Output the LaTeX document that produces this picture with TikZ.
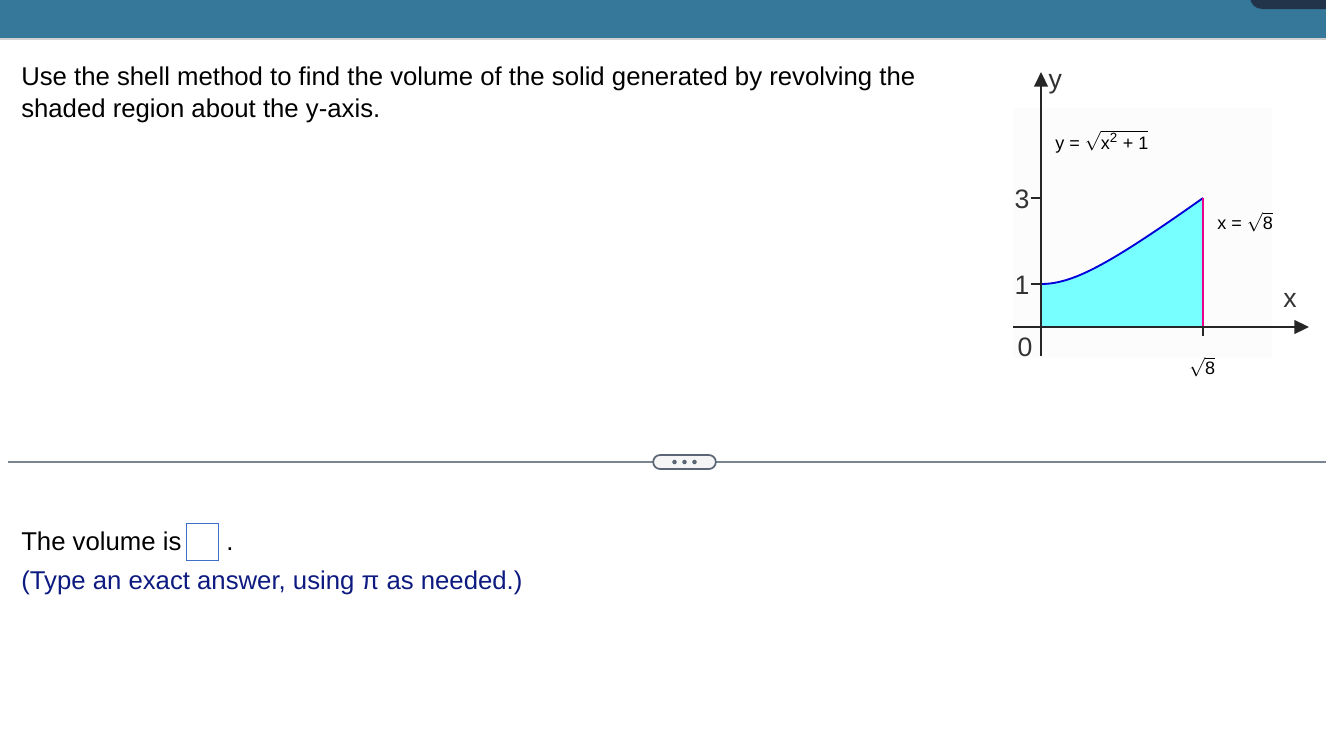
\documentclass[tikz,border=0pt]{standalone}
\usepackage{fontspec}
\setmainfont{Liberation Sans}
\usepackage{xcolor}
\usetikzlibrary{arrows.meta, positioning, calc, shapes}
\definecolor{barblue}{HTML}{357899}
\definecolor{bardark}{HTML}{22344A}
\definecolor{rulegray}{HTML}{7A8592}
\definecolor{pillgray}{HTML}{5A6675}
\definecolor{areacyan}{HTML}{77FFFF}
\definecolor{hintnavy}{HTML}{0D1A80}
\definecolor{boxblue}{HTML}{3E6FC6}
\tikzset{
  question/.style = {anchor=base west, inner sep=0pt, font=\fontsize{19.3}{23}\selectfont},
  ticklabel/.style = {inner sep=1pt, font=\fontsize{20}{24}\selectfont, text=black!80},
  graphlabel/.style = {inner sep=0pt, font=\fontsize{13.5}{16}\selectfont},
  axis/.style = {line width=1.6pt, black!85, -{Triangle[angle=50:9pt 2]}}
}

\begin{document}
\begin{tikzpicture}[x=0.75pt, y=-0.75pt]
  \useasboundingbox (0,0) rectangle (1326,750);
  % header
  \fill[barblue] (0,0) rectangle (1326,38);
  \fill[bardark, rounded corners=9pt] (1250,-20) rectangle (1346,9);
  \fill[black!18] (0,38) rectangle (1326,40);

  % question text
  \node[question] (q1) at (21,85) {Use the shell method to find the volume of the solid generated by revolving the};
  \node[question] (q2) at (21,117) {shaded region about the y-axis.};

  % graph
  \fill[black!1] (1013,108) rectangle (1272,358);
  \coordinate (o) at (1041,327);
  \coordinate (yone) at (1041,284);
  \coordinate (ythree) at (1041,198);
  \coordinate (xend) at (1203,327);
  \coordinate (top) at (1203,198);
  \fill[areacyan] (o) -- plot[domain=0:2.8284, samples=60] ({1041+57.28*\x},{327-43*sqrt(\x*\x+1)}) -- (xend) -- cycle;
  \draw[blue!85!black, line width=1.4pt] plot[domain=0:2.8284, samples=60] ({1041+57.28*\x},{327-43*sqrt(\x*\x+1)});
  \draw[magenta, line width=1.4pt] (top) -- (xend);
  \draw[black!85, line width=1.2pt] (xend) -- ++(0,9);
  \coordinate (xstart) at (1013,327);
  \coordinate (xtip) at (1309,327);
  \coordinate (ystart) at (1041,356);
  \coordinate (ytip) at (1041,72);
  \draw[axis] (xstart) -- (xtip);
  \draw[axis] (ystart) -- (ytip);
  \draw[black!85, line width=1.2pt] (ythree) -- ++(-10,0);
  \draw[black!85, line width=1.2pt] (yone) -- ++(-10,0);

  \node[ticklabel, anchor=east] (lthree) at (1031,199) {3};
  \node[ticklabel, anchor=east] (lone) at (1031,285) {1};
  \node[ticklabel, anchor=east] (lzero) at (1034,347) {0};
  \node[ticklabel, anchor=west] (ly) at (1047,84) {y};
  \node[ticklabel, anchor=center] (lx) at (1290,300) {x};
  \node[graphlabel, anchor=west] (curvelab) at (1055,142) {y = $\sqrt{\mbox{x$^{\mbox{\fontsize{10}{11}\selectfont 2}}$ + 1}}$};
  \node[graphlabel, anchor=west] (linelab) at (1217,222) {x = $\sqrt{\mbox{8}}$};
  \node[graphlabel, anchor=center] (rootlab) at (1202,367) {$\sqrt{\mbox{8}}$};

  % separator
  \coordinate (sepl) at (8,462);
  \coordinate (sepr) at (1326,462);
  \draw[rulegray, line width=1.3pt] (sepl) -- (sepr);
  \node[draw=pillgray, fill=gray!8, line width=1.3pt, rounded rectangle, minimum width=47pt, minimum height=10.5pt, inner sep=0pt] (more) at (684.5,462) {};
  \foreach \dx in {-10,0,10}
    \fill[pillgray] ($(more.center)+(\dx,0)$) circle (1.7pt);

  % answer
  \node[question] (ans) at (21,550) {The volume is};
  \node[draw=boxblue, line width=0.9pt, minimum width=24pt, minimum height=28pt, inner sep=0pt, anchor=west] (ansbox) at (186,542) {};
  \node[question] (dot) at (226,550) {.};
  \node[question, text=hintnavy] (hint) at (21,589) {(Type an exact answer, using π as needed.)};
\end{tikzpicture}
\end{document}
